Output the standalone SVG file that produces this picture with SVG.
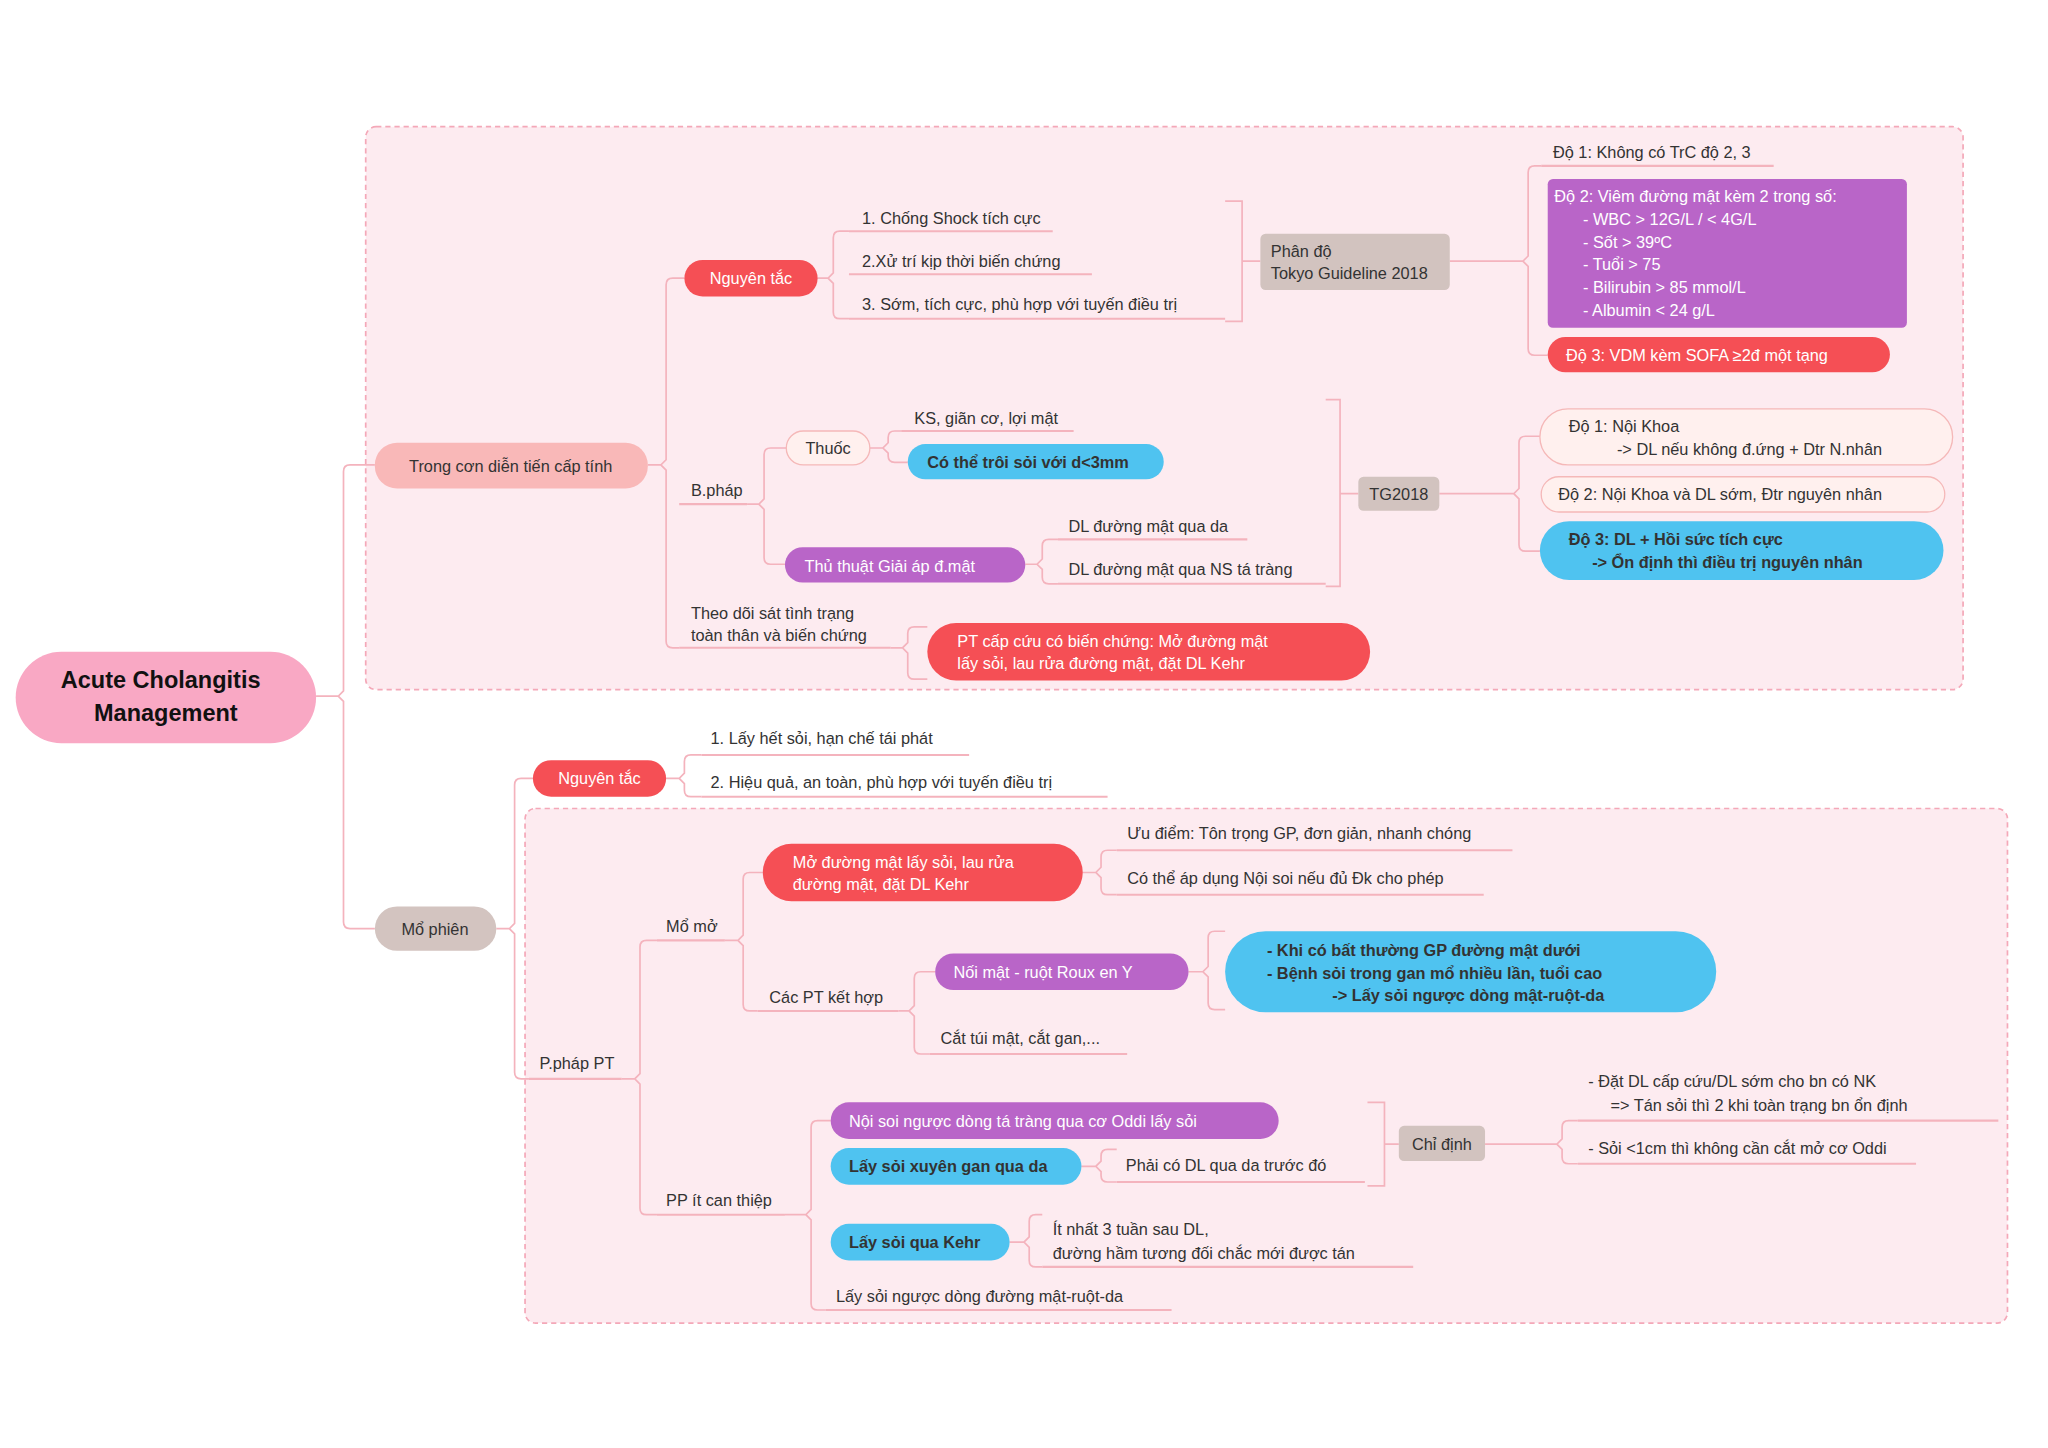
<svg xmlns="http://www.w3.org/2000/svg" width="2048" height="1448" viewBox="0 0 2048 1448">
<style>
.t{font-family:"Liberation Sans","Noto Sans",sans-serif;font-size:12.5px;fill:#333;dominant-baseline:central}
.w{fill:#fff}
.b{font-weight:bold}
.ln{stroke:#f4b3bd;fill:none;stroke-width:1.3}
.ul{stroke:#f4b3bd;stroke-width:1.6}
.box{fill:none;stroke:#f4a8b8;stroke-width:1.3;stroke-dasharray:4 3}
</style>
<rect width="2048" height="1448" fill="#fff"/>
<g transform="scale(1.3061)">
<rect class="box" x="280" y="97" width="1223" height="431" rx="8" fill="#fdebf0" style="fill:#fdebf0"/>
<rect class="box" x="402" y="619" width="1135" height="394" rx="8" style="fill:#fdebf0"/>

<g id="connectors">
<path class="ln" d="M242,533 H259 M287,356 H268 Q263,356 263,361 V529 L259,533 L263,537 V706 Q263,711 268,711 H287"/>
<path class="ln" d="M496,356 H506 M524,213 H515 Q510,213 510,218 V352 L506,356 L510,360 V491 Q510,496 515,496 H520"/>
<path class="ln" d="M626,213 H634 M650,177 H643 Q638,177 638,182 V209 L634,213 L638,217 V239 Q638,244 643,244 H650"/>
<path class="ln" d="M572,386 H581 M602,343 H590 Q585,343 585,348 V382 L581,386 L585,390 V427 Q585,432 590,432 H601"/>
<path class="ln" d="M666,343 H676 M690,330 H685 Q680,330 680,335 V339 L676,343 L680,347 V349 Q680,354 685,354 H695"/>
<path class="ln" d="M785,432 H794 M810,413 H803 Q798,413 798,418 V428 L794,432 L798,436 V442 Q798,447 803,447 H810"/>
<path class="ln" d="M682,496 H691 M710,480 H700 Q695,480 695,485 V492 L691,496 L695,500 V515 Q695,520 700,520 H710"/>
<path class="ln" d="M938,154 H951 V246 H938 M951,200 H965"/>
<path class="ln" d="M1110,200 H1166 M1180,127 H1175 Q1170,127 1170,132 V196 L1166,200 L1170,204 V267 Q1170,272 1175,272 H1185"/>
<path class="ln" d="M1015,306 H1026 V449 H1015 M1026,378 H1040"/>
<path class="ln" d="M1102,378 H1159 M1179,334 H1168 Q1163,334 1163,339 V374 L1159,378 L1163,382 V417 Q1163,422 1168,422 H1179"/>
<path class="ln" d="M380,711 H390 M408,596 H399 Q394,596 394,601 V707 L390,711 L394,715 V821 Q394,826 399,826 H405"/>
<path class="ln" d="M510,596 H520 M537,578 H529 Q524,578 524,583 V592 L520,596 L524,600 V605 Q524,610 529,610 H537"/>
<path class="ln" d="M476,826 H486 M503,720 H495 Q490,720 490,725 V822 L486,826 L490,830 V925 Q490,930 495,930 H503"/>
<path class="ln" d="M555,720 H565 M584,668 H574 Q569,668 569,673 V716 L565,720 L569,724 V769 Q569,774 574,774 H580"/>
<path class="ln" d="M829,668 H839 M855,651 H848 Q843,651 843,656 V664 L839,668 L843,672 V680 Q843,685 848,685 H855"/>
<path class="ln" d="M688,774 H696 M716,744 H705 Q700,744 700,749 V770 L696,774 L700,778 V802 Q700,807 705,807 H712"/>
<path class="ln" d="M910,744 H921 M938,713 H930 Q925,713 925,718 V740 L921,744 L925,748 V768 Q925,773 930,773 H938"/>
<path class="ln" d="M601,930 H617 M636,858 H626 Q621,858 621,863 V926 L617,930 L621,934 V998 Q621,1003 626,1003 H632"/>
<path class="ln" d="M828,893 H839 M855,880 H848 Q843,880 843,885 V889 L839,893 L843,897 V900 Q843,905 848,905 H855"/>
<path class="ln" d="M1047,844 H1060 V908 H1047 M1060,876 H1071"/>
<path class="ln" d="M1137,876 H1192 M1208,858 H1201 Q1196,858 1196,863 V872 L1192,876 L1196,880 V886 Q1196,891 1201,891 H1208"/>
<path class="ln" d="M773,951 H784 M798,930 H793 Q788,930 788,935 V947 L784,951 L788,955 V965 Q788,970 793,970 H798"/>
</g>

<g id="root"><rect x="12" y="499" width="230" height="70" rx="35" fill="#f9a8c4"/>
<text class="t b" x="123" y="521" text-anchor="middle" style="font-size:18px;fill:#111">Acute Cholangitis</text>
<text class="t b" x="127" y="546" text-anchor="middle" style="font-size:18px;fill:#111">Management</text></g>

<g id="trong"><rect x="287" y="339" width="209" height="35" rx="17" fill="#f9b8b8"/><text class="t" x="391" y="357" text-anchor="middle">Trong cơn diễn tiến cấp tính</text></g>
<g id="mophien"><rect x="287" y="694" width="93" height="34" rx="17" fill="#d3c4c0"/><text class="t" x="333" y="711" text-anchor="middle">Mổ phiên</text></g>

<g id="nt1"><rect x="524" y="199" width="102" height="28" rx="14" fill="#f54f55"/><text class="t w" x="575" y="213" text-anchor="middle">Nguyên tắc</text></g>
<g id="nt1a"><text class="t" x="660" y="167">1. Chống Shock tích cực</text><line class="ul" x1="650" y1="177" x2="806" y2="177"/></g>
<g id="nt1b"><text class="t" x="660" y="200">2.Xử trí kịp thời biến chứng</text><line class="ul" x1="650" y1="210" x2="836" y2="210"/></g>
<g id="nt1c"><text class="t" x="660" y="233">3. Sớm, tích cực, phù hợp với tuyến điều trị</text><line class="ul" x1="650" y1="244" x2="938" y2="244"/></g>
<g id="phando"><rect x="965" y="179" width="145" height="43" rx="4" fill="#d2c3bf"/><text class="t" x="973" y="192">Phân độ</text><text class="t" x="973" y="209">Tokyo Guideline 2018</text></g>
<g id="do1"><text class="t" x="1189" y="116">Độ 1: Không có TrC độ 2, 3</text><line class="ul" x1="1180" y1="127" x2="1358" y2="127"/></g>
<g id="do2"><rect x="1185" y="137" width="275" height="114" rx="4" fill="#b965c8"/>
<text class="t w" x="1190" y="150">Độ 2: Viêm đường mật kèm 2 trong số:</text>
<text class="t w" x="1212" y="168">- WBC &gt; 12G/L / &lt; 4G/L</text>
<text class="t w" x="1212" y="185">- Sốt &gt; 39ºC</text>
<text class="t w" x="1212" y="202">- Tuổi &gt; 75</text>
<text class="t w" x="1212" y="220">- Bilirubin &gt; 85 mmol/L</text>
<text class="t w" x="1212" y="237">- Albumin &lt; 24 g/L</text></g>
<g id="do3"><rect x="1185" y="258" width="262" height="27" rx="13.5" fill="#f54f55"/><text class="t w" x="1199" y="272">Độ 3: VDM kèm SOFA ≥2đ một tạng</text></g>

<g id="bphap"><text class="t" x="529" y="375">B.pháp</text><line class="ul" x1="520" y1="386" x2="572" y2="386"/></g>
<g id="thuoc"><rect x="602" y="330" width="64" height="26" rx="13" fill="#fff0ee" stroke="#f5b8b8"/><text class="t" x="634" y="343" text-anchor="middle">Thuốc</text></g>
<g id="ks"><text class="t" x="700" y="320">KS, giãn cơ, lợi mật</text><line class="ul" x1="690" y1="330" x2="822" y2="330"/></g>
<g id="cothe"><rect x="695" y="340" width="196" height="27" rx="13.5" fill="#4fc3f0"/><text class="t b" x="710" y="354">Có thể trôi sỏi với d&lt;3mm</text></g>
<g id="thuthuat"><rect x="601" y="419" width="184" height="27" rx="13.5" fill="#b965c8"/><text class="t w" x="616" y="433">Thủ thuật Giải áp đ.mật</text></g>
<g id="dlda"><text class="t" x="818" y="403">DL đường mật qua da</text><line class="ul" x1="810" y1="413" x2="955" y2="413"/></g>
<g id="dlns"><text class="t" x="818" y="436">DL đường mật qua NS tá tràng</text><line class="ul" x1="810" y1="447" x2="1015" y2="447"/></g>
<g id="tg2018"><rect x="1040" y="365" width="62" height="26" rx="4" fill="#d2c3bf"/><text class="t" x="1071" y="378" text-anchor="middle">TG2018</text></g>
<g id="tgdo1"><rect x="1179" y="313" width="316" height="43" rx="21.5" fill="#fff0ee" stroke="#f5b8b8"/><text class="t" x="1201" y="326">Độ 1: Nội Khoa</text><text class="t" x="1238" y="344">-&gt; DL nếu không đ.ứng + Dtr N.nhân</text></g>
<g id="tgdo2"><rect x="1180" y="365" width="309" height="27" rx="13.5" fill="#fff0ee" stroke="#f5b8b8"/><text class="t" x="1193" y="378">Độ 2: Nội Khoa và DL sớm, Đtr nguyên nhân</text></g>
<g id="tgdo3"><rect x="1179" y="399" width="309" height="45" rx="22.5" fill="#4fc3f0"/><text class="t b" x="1201" y="413">Độ 3: DL + Hồi sức tích cực</text><text class="t b" x="1219" y="430">-&gt; Ổn định thì điều trị nguyên nhân</text></g>
<g id="theodoi"><text class="t" x="529" y="469">Theo dõi sát tình trạng</text><text class="t" x="529" y="486">toàn thân và biến chứng</text><line class="ul" x1="520" y1="496" x2="682" y2="496"/></g>
<g id="ptcapcuu"><rect x="710" y="477" width="339" height="44" rx="22" fill="#f54f55"/><text class="t w" x="733" y="491">PT cấp cứu có biến chứng: Mở đường mật</text><text class="t w" x="733" y="508">lấy sỏi, lau rửa đường mật, đặt DL Kehr</text></g>

<g id="nt2"><rect x="408" y="582" width="102" height="28" rx="14" fill="#f54f55"/><text class="t w" x="459" y="596" text-anchor="middle">Nguyên tắc</text></g>
<g id="nt2a"><text class="t" x="544" y="565">1. Lấy hết sỏi, hạn chế tái phát</text><line class="ul" x1="537" y1="578" x2="742" y2="578"/></g>
<g id="nt2b"><text class="t" x="544" y="599">2. Hiệu quả, an toàn, phù hợp với tuyến điều trị</text><line class="ul" x1="537" y1="610" x2="848" y2="610"/></g>
<g id="pphap"><text class="t" x="413" y="814">P.pháp PT</text><line class="ul" x1="405" y1="826" x2="476" y2="826"/></g>
<g id="momo"><text class="t" x="510" y="709">Mổ mở</text><line class="ul" x1="503" y1="720" x2="555" y2="720"/></g>
<g id="moduong"><rect x="584" y="646" width="245" height="44" rx="22" fill="#f54f55"/><text class="t w" x="607" y="660">Mở đường mật lấy sỏi, lau rửa</text><text class="t w" x="607" y="677">đường mật, đặt DL Kehr</text></g>
<g id="uudiem"><text class="t" x="863" y="638">Ưu điểm: Tôn trọng GP, đơn giản, nhanh chóng</text><line class="ul" x1="855" y1="651" x2="1158" y2="651"/></g>
<g id="noisoi1"><text class="t" x="863" y="672">Có thể áp dụng Nội soi nếu đủ Đk cho phép</text><line class="ul" x1="855" y1="685" x2="1136" y2="685"/></g>
<g id="cacpt"><text class="t" x="589" y="763">Các PT kết hợp</text><line class="ul" x1="580" y1="774" x2="688" y2="774"/></g>
<g id="noimat"><rect x="716" y="730" width="194" height="28" rx="14" fill="#b965c8"/><text class="t w" x="730" y="744">Nối mật - ruột Roux en Y</text></g>
<g id="khico"><rect x="938" y="713" width="376" height="62" rx="31" fill="#4fc3f0"/><text class="t b" x="970" y="727">- Khi có bất thường GP đường mật dưới</text><text class="t b" x="970" y="745">- Bệnh sỏi trong gan mổ nhiều lần, tuổi cao</text><text class="t b" x="1020" y="762">-&gt; Lấy sỏi ngược dòng mật-ruột-da</text></g>
<g id="cattui"><text class="t" x="720" y="795">Cắt túi mật, cắt gan,...</text><line class="ul" x1="712" y1="807" x2="863" y2="807"/></g>
<g id="ppit"><text class="t" x="510" y="919">PP ít can thiệp</text><line class="ul" x1="503" y1="930" x2="601" y2="930"/></g>
<g id="noisoinguoc"><rect x="636" y="844" width="343" height="28" rx="14" fill="#b965c8"/><text class="t w" x="650" y="858">Nội soi ngược dòng tá tràng qua cơ Oddi lấy sỏi</text></g>
<g id="xuyengan"><rect x="636" y="879" width="192" height="28" rx="14" fill="#4fc3f0"/><text class="t b" x="650" y="893">Lấy sỏi xuyên gan qua da</text></g>
<g id="phaico"><text class="t" x="862" y="892">Phải có DL qua da trước đó</text><line class="ul" x1="855" y1="905" x2="1045" y2="905"/></g>
<g id="chidinh"><rect x="1071" y="862" width="66" height="27" rx="4" fill="#d2c3bf"/><text class="t" x="1104" y="876" text-anchor="middle">Chỉ định</text></g>
<g id="datdl"><text class="t" x="1216" y="828">- Đặt DL cấp cứu/DL sớm cho bn có NK</text><text class="t" x="1233" y="846">=&gt; Tán sỏi thì 2 khi toàn trạng bn ổn định</text><line class="ul" x1="1208" y1="858" x2="1530" y2="858"/></g>
<g id="soi1cm"><text class="t" x="1216" y="879">- Sỏi &lt;1cm thì không cần cắt mở cơ Oddi</text><line class="ul" x1="1208" y1="891" x2="1467" y2="891"/></g>
<g id="kehr"><rect x="636" y="937" width="137" height="28" rx="14" fill="#4fc3f0"/><text class="t b" x="650" y="951">Lấy sỏi qua Kehr</text></g>
<g id="itnhat"><text class="t" x="806" y="941">Ít nhất 3 tuần sau DL,</text><text class="t" x="806" y="959">đường hầm tương đối chắc mới được tán</text><line class="ul" x1="798" y1="970" x2="1082" y2="970"/></g>
<g id="nguocdong"><text class="t" x="640" y="992">Lấy sỏi ngược dòng đường mật-ruột-da</text><line class="ul" x1="632" y1="1003" x2="897" y2="1003"/></g>
</g>
</svg>
